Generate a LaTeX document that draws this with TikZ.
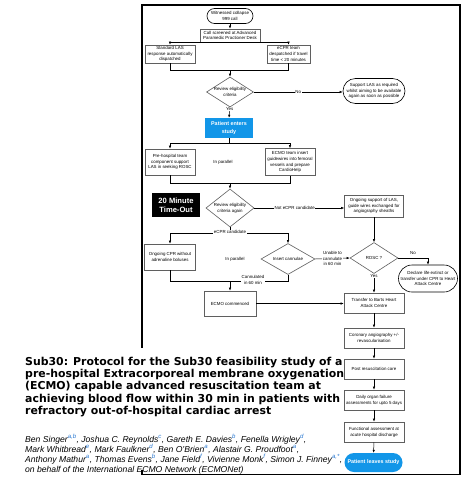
\documentclass[tikz,border=0pt]{standalone}
\usepackage{fontspec}
\setmainfont{Liberation Sans}
\newfontfamily\titlefont{DejaVu Sans}
\usetikzlibrary{shapes.geometric,arrows.meta}
\definecolor{studyblue}{RGB}{18,150,232}
\definecolor{supblue}{RGB}{40,120,210}
\definecolor{boxgray}{RGB}{95,95,95}
\begin{document}
\begin{tikzpicture}[x=1pt,y=-1pt,
  base/.style={font=\fontsize{4.4}{5.8}\selectfont, align=center, inner sep=0.4pt},
  proc/.style 2 args={base, draw=boxgray, line width=0.6pt, fill=white, minimum width=#1, minimum height=#2},
  term/.style 2 args={base, draw=black, line width=0.6pt, fill=white, minimum width=#1, minimum height=#2, rounded corners=0.5*#2pt},
  dia/.style 2 args={base, shape=diamond, aspect=1.6, inner sep=0pt, draw=boxgray, line width=0.6pt, fill=white, minimum width=#1, minimum height=#2},
  bluebox/.style 2 args={font=\fontsize{5.4}{7.3}\selectfont\bfseries, align=center, text=white, fill=studyblue, inner sep=0.4pt, minimum width=#1, minimum height=#2},
  lbl/.style={base, fill=white, inner sep=0.5pt},
  conn/.style={line width=0.5pt, black},
  arr/.style={conn, -{Latex[length=3pt,width=2.4pt]}}
]
\useasboundingbox (0,0) rectangle (474,482);
\fill[white] (0,0) rectangle (474,482);
% frame
\draw[line width=1.3pt] (142,5) rectangle (460,474.5);

% nodes
\node[term={46}{15}] (n1) at (230,16) {Witnessed collapse\\999 call};
\node[proc={60}{13}] (n2) at (230,35.5) {Call screened at Advanced\\Paramedic Practioner Desk};
\node[proc={50}{18}] (n3) at (170,54) {Standard LAS\\response automatically\\dispatched};
\node[proc={43}{18}] (n4) at (288.5,54) {eCPR team\\despatched if travel\\time < 20 minutes};
\coordinate (j2) at (230,70);
\node[dia={47}{30}] (n5) at (230,92) {Review eligibility\\criteria};
\node[term={62}{25}] (n6) at (374,91) {Support LAS as required\\whilst aiming to be available\\again as soon as possible};
\node[bluebox={48}{20}] (n7) at (229,128) {Patient enters\\study};
\coordinate (j3) at (229,143);
\node[proc={50}{26}] (n8) at (170,162) {Pre-hospital team\\component support\\LAS in seeking ROSC};
\node[proc={50}{27}] (n9) at (290,162) {ECMO team insert\\guidewires into femoral\\vessels and prepare\\CardioHelp};
\node[base] (par1) at (223,162) {In parallel};
\coordinate (j4) at (230,183);
\node[font=\fontsize{7.6}{9.3}\selectfont\bfseries, align=center, text=white, fill=black, minimum width=48, minimum height=24, inner sep=0.5pt] (n10) at (176,205) {20 Minute\\Time-Out};
\node[dia={48}{38}] (n11) at (230,208) {Review eligibility\\criteria again};
\node[proc={59}{22}] (n12) at (374,206) {Ongoing support of LAS,\\guide wires exchanged for\\angiography sheaths};
\coordinate (j5) at (230,233);
\node[proc={51}{26}] (n13) at (170,257) {Ongoing CPR without\\adrenaline boluses};
\node[dia={54}{31}] (n14) at (288,259) {Insert cannulae};
\node[base] (par2) at (235,259) {In parallel};
\node[dia={48}{31}] (n15) at (374,258) {ROSC ?};
\node[term={59}{27}] (n16) at (428,278.5) {Declare life extinct or\\transfer under CPR to Heart\\Attack Centre};
\coordinate (j6) at (230,281);
\coordinate (j7) at (428,258);
\node[proc={52}{25}] (n17) at (230,303.5) {ECMO commenced};
\node[proc={60}{20}] (n18) at (374,303) {Transfer to Barts Heart\\Attack Centre};
\node[proc={60}{20}] (n19) at (374,338) {Coronary angiography +/-\\revascularisation};
\node[proc={60}{20}] (n20) at (374,369) {Post resuscitation care};
\node[proc={60}{20}] (n21) at (374,400) {Daily organ failure\\assessments for upto 5 days};
\node[proc={60}{20}] (n22) at (374,432) {Functional assessment at\\acute hospital discharge};
\node[bluebox={58}{19}, rounded corners=9.5pt] (n23) at (373.5,462.5) {Patient leaves study};

% connectors
\draw[arr] (n1) -- (n2);
\draw[conn] (n2.south -| n3.north) -- (n2.south -| n4.north);
\draw[arr] (n2.south -| n3.north) -- (n3.north);
\draw[arr] (n2.south -| n4.north) -- (n4.north);
\draw[conn] (n3.south) |- (j2);
\draw[conn] (n4.south) |- (j2);
\draw[arr] (j2) -- (n5.north);
\draw[arr] (n5.east) -- (n5.east -| n6.west) node[lbl, midway] {No};
\draw[arr] (n5.south) -- (n7.north) node[lbl, pos=0.2] {Yes};
\draw[conn] (n7.south) -- (j3);
\draw[arr] (j3) -| (n8.north);
\draw[arr] (j3) -| (n9.north);
\draw[conn] (n8.south) |- (j4);
\draw[conn] (n9.south) |- (j4);
\draw[arr] (j4) -- (n11.north);
\draw[arr] (n11.east) -- (n11.east -| n12.west) node[lbl, pos=0.45] {Not eCPR candidate};
\draw[conn] (n11.south) -- (j5);
\draw[arr] (j5) -| (n13.north);
\draw[arr] (j5) -| (n14.north);
\node[lbl] (l5) at (230,232) {eCPR candidate};
\draw[arr] (n12.south) -- (n15.north);
\draw[arr] (n14.east) -- (n15.west) node[lbl, midway] {Unable to\\cannulate\\in 60 min};
\draw[conn] (n15.east) -- (j7);
\draw[arr] (j7) -- (n16.north);
\node[base] (lno) at (413,253) {No};
\draw[arr] (n15.south) -- (n18.north) node[lbl, pos=0.12] {Yes};
\draw[conn] (n13.south) |- (j6);
\draw[conn] (n14.south) |- (j6);
\draw[arr] (j6) -- (n17.north);
\node[lbl] (lcan) at (253,280) {Cannulated\\in 60 min};
\draw[arr] (n17.east) -- (n17.east -| n18.west);
\draw[arr] (n18) -- (n19);
\draw[arr] (n19) -- (n20);
\draw[arr] (n20) -- (n21);
\draw[arr] (n21) -- (n22);
\draw[arr] (n22) -- (n23);

% title block
\fill[white] (15,348) rectangle (343,470);
\node[anchor=north west, align=left, inner sep=0pt, font=\titlefont\bfseries\fontsize{10.9}{12.2}\selectfont] (title) at (25,357)
{Sub30: Protocol for the Sub30 feasibility study of a\\
pre-hospital Extracorporeal membrane oxygenation\\
(ECMO) capable advanced resuscitation team at\\
achieving blood flow within 30 min in patients with\\
refractory out-of-hospital cardiac arrest};
\node[anchor=north west, align=left, inner sep=0pt, font=\itshape\fontsize{8.6}{10}\selectfont] (authors) at (25,434.2)
{Ben Singer\textsuperscript{\color{supblue}a,b}, Joshua C. Reynolds\textsuperscript{\color{supblue}c}, Gareth E. Davies\textsuperscript{\color{supblue}b}, Fenella Wrigley\textsuperscript{\color{supblue}d},\\
Mark Whitbread\textsuperscript{\color{supblue}e}, Mark Faulkner\textsuperscript{\color{supblue}d}, Ben O'Brien\textsuperscript{\color{supblue}a}, Alastair G. Proudfoot\textsuperscript{\color{supblue}a},\\
Anthony Mathur\textsuperscript{\color{supblue}a}, Thomas Evens\textsuperscript{\color{supblue}b}, Jane Field\textsuperscript{\color{supblue}f}, Vivienne Monk\textsuperscript{\color{supblue}f}, Simon J. Finney\textsuperscript{\color{supblue}a,*},\\
on behalf of the International ECMO Network (ECMONet)};
\end{tikzpicture}
\end{document}
